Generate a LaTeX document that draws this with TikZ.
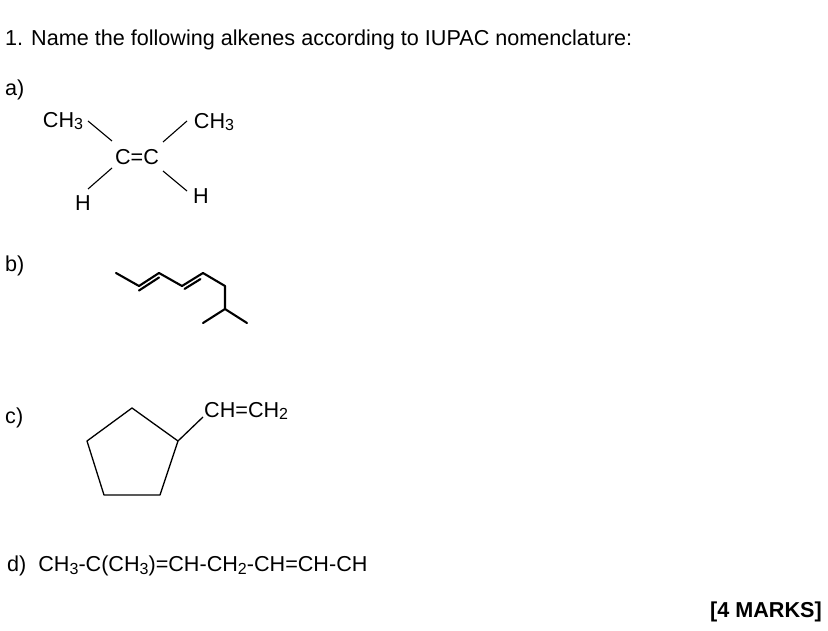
\documentclass[tikz,border=0pt]{standalone}
\usepackage{fontspec}
\setmainfont{Liberation Sans}
\newcommand{\sbs}[1]{\raisebox{-0.25ex}{\fontsize{16}{16}\selectfont #1}}
\begin{document}
\begin{tikzpicture}[x=1pt,y=-1pt,
  txt/.style={inner sep=0pt,font=\fontsize{21.6}{24}\selectfont},
  bond/.style={line width=1.1pt},
  sk/.style={line width=2.1pt,line join=round,line cap=round},
  ring/.style={line width=1.3pt,line join=round}]
\useasboundingbox (0,0) rectangle (828,631);
\node[txt,anchor=west] (title) at (5,40) {1. Name the following alkenes according to IUPAC nomenclature:};
\node[txt,anchor=west] (la) at (5,90) {a)};
\node[txt,anchor=west] (lb) at (5,266) {b)};
\node[txt,anchor=west] (lc) at (5,418) {c)};
% a
\node[txt] (m1) at (63,121) {CH\sbs{3}};
\node[txt] (m2) at (214,122) {CH\sbs{3}};
\node[txt] (cc) at (137,157) {C=C};
\node[txt] (h1) at (83,203) {H};
\node[txt] (h2) at (201,196) {H};
\coordinate (a1) at (88,121); \coordinate (a2) at (112,141);
\coordinate (a3) at (187,121); \coordinate (a4) at (163,142);
\coordinate (a5) at (112,168); \coordinate (a6) at (88,189);
\coordinate (a7) at (163,171); \coordinate (a8) at (187,191);
\draw[bond] (a1)--(a2) (a3)--(a4) (a5)--(a6) (a7)--(a8);
% b
\coordinate (b1) at (116,273); \coordinate (b2) at (139,286);
\coordinate (b3) at (159,273); \coordinate (b4) at (182,286);
\coordinate (b5) at (203,273); \coordinate (b6) at (225,286);
\coordinate (b7) at (225,309); \coordinate (b8) at (203,323);
\coordinate (b9) at (247,323);
\draw[sk] (b1)--(b2)--(b3)--(b4)--(b5)--(b6)--(b7)--(b8) (b7)--(b9);
\draw[sk,shorten <=3pt,shorten >=3pt] ([yshift=-4.5]b2)--([yshift=-4.5]b3) ([yshift=-4.5]b4)--([yshift=-4.5]b5);
% c
\coordinate (c1) at (132,408); \coordinate (c2) at (178,441);
\coordinate (c3) at (160,495); \coordinate (c4) at (104,495);
\coordinate (c5) at (87,441); \coordinate (c6) at (203,417);
\draw[ring] (c1)--(c2)--(c3)--(c4)--(c5)--cycle (c2)--(c6);
\node[txt,anchor=west] (vin) at (204,411) {CH=CH\sbs{2}};
% d
\node[txt,anchor=west] (d) at (7,566) {d)\hspace{12pt}CH\sbs{3}-C(CH\sbs{3})=CH-CH\sbs{2}-CH=CH-CH};
\node[txt,anchor=east,font=\fontsize{21.6}{24}\selectfont\bfseries] (marks) at (822,612) {[4 MARKS]};
\end{tikzpicture}
\end{document}
